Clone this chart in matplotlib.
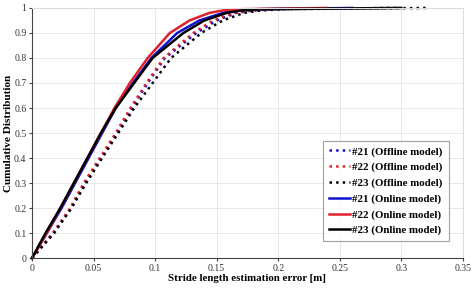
import numpy as np
import matplotlib.pyplot as plt
import matplotlib

matplotlib.rcParams['font.family'] = ['Liberation Serif', 'DejaVu Serif']

# cumulative levels and stride-length error [m] read at each level
levels = [0, 0.1, 0.2, 0.3, 0.4, 0.5, 0.6, 0.7, 0.8, 0.9, 0.95, 0.98, 0.99, 0.995, 1.0]

off21 = [0, 0.017, 0.032, 0.043, 0.056, 0.069, 0.081, 0.094, 0.108, 0.1335, 0.150, 0.166, 0.180, 0.198, 0.30]
off22 = [0, 0.017, 0.031, 0.042, 0.055, 0.068, 0.080, 0.093, 0.107, 0.131, 0.147, 0.164, 0.178, 0.195, 0.29]
off23 = [0, 0.018, 0.032, 0.044, 0.057, 0.070, 0.083, 0.098, 0.113, 0.1375, 0.155, 0.172, 0.186, 0.205, 0.323]
on21 = [0, 0.012, 0.024, 0.035, 0.046, 0.057, 0.068, 0.082, 0.097, 0.118, 0.136, 0.155, 0.167, 0.182, 0.26]
on22 = [0, 0.012, 0.023, 0.034, 0.045, 0.056, 0.067, 0.0795, 0.094, 0.112, 0.128, 0.144, 0.155, 0.170, 0.24]
on23 = [0, 0.011, 0.023, 0.034, 0.045, 0.056, 0.068, 0.083, 0.098, 0.123, 0.140, 0.158, 0.170, 0.185, 0.30]

labels = ['#21 (Offline model)', '#22 (Offline model)', '#23 (Offline model)',
          '#21 (Online model)', '#22 (Online model)', '#23 (Online model)']
colors = ['#1010d0', '#e0202a', '#000000', '#1010d0', '#e0202a', '#000000']

fig = plt.figure(figsize=(4.74, 2.94), dpi=100)
ax = fig.add_axes([0.0675, 0.122, 0.909, 0.851])

series = [off21, off22, off23, on21, on22, on23]
for i, xs in enumerate(series):
    ls = ':' if i < 3 else '-'
    ax.plot(xs, levels, ls, color=colors[i], lw=1.8, label=labels[i], clip_on=False)

ax.set_xlim(0, 0.35)
ax.set_ylim(0, 1)
ax.set_xticks(np.arange(0, 0.36, 0.05))
ax.set_xticklabels(['0', '0.05', '0.1', '0.15', '0.2', '0.25', '0.3', '0.35'])
ax.set_yticks(np.arange(0, 1.01, 0.1))
ax.set_yticklabels(['0', '0.1', '0.2', '0.3', '0.4', '0.5', '0.6', '0.7', '0.8', '0.9', '1'])
ax.tick_params(labelsize=7, length=2, pad=2, color='#444444', labelcolor='#333333')
ax.grid(True, color='#e4e4e4', lw=0.6)
for s in ['top', 'right']:
    ax.spines[s].set_color('#dddddd')
for s in ['left', 'bottom']:
    ax.spines[s].set_color('#444444')
ax.set_xlabel('Stride length estimation error [m]', fontsize=7.8, fontweight='bold')
ax.xaxis.set_label_coords(0.5, -0.062)
ax.set_ylabel('Cumulative Distribution', fontsize=8.1, fontweight='bold')
ax.yaxis.set_label_coords(-0.045, 0.5)

leg = ax.legend(loc='lower right', prop={'weight': 'bold', 'size': 7.8},
                handlelength=2.0, handletextpad=0.2, labelspacing=0.55,
                fancybox=False, edgecolor='#888888', borderpad=0.55,
                bbox_to_anchor=(0.98, 0.045))
leg.get_frame().set_linewidth(0.8)

plt.savefig('out.png', dpi=100)
